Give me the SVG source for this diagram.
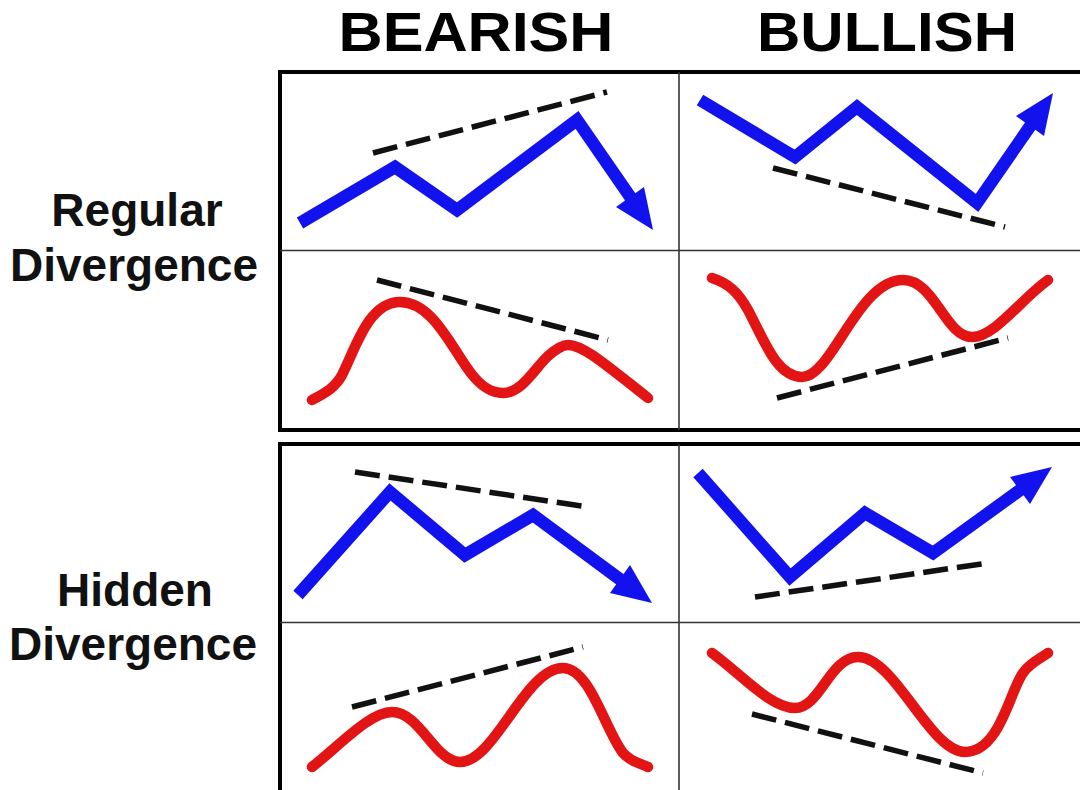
<svg xmlns="http://www.w3.org/2000/svg" width="1080" height="790" viewBox="0 0 1080 790">
<style>
.hdr{font-family:"Liberation Sans",Arial,Helvetica,sans-serif;font-weight:bold;font-size:55px;fill:#000;text-anchor:middle}
.lbl{font-family:"Liberation Sans",Arial,Helvetica,sans-serif;font-weight:bold;font-size:46px;fill:#111;text-anchor:middle}
.frame{fill:none;stroke:#000;stroke-width:4}
.div{fill:none;stroke:#333;stroke-width:1.6}
.blue{fill:none;stroke:#1212ee;stroke-width:12.5;stroke-linejoin:miter;stroke-miterlimit:10;stroke-linecap:butt}
.head{fill:#1212ee}
.red{fill:none;stroke:#e21414;stroke-width:10.5;stroke-linecap:round;stroke-linejoin:round}
.dash{fill:none;stroke:#111;stroke-width:5.5;stroke-dasharray:25 9}
</style>
<rect width="1080" height="790" fill="#fff"/>
<g id="headers">
<text class="hdr" x="476" y="51" textLength="275" lengthAdjust="spacingAndGlyphs">BEARISH</text>
<text class="hdr" x="887" y="51" textLength="260" lengthAdjust="spacingAndGlyphs">BULLISH</text>
</g>
<g id="row-labels">
<text class="lbl" x="137" y="226">Regular</text>
<text class="lbl" x="134" y="281">Divergence</text>
<text class="lbl" x="135" y="606">Hidden</text>
<text class="lbl" x="133" y="660">Divergence</text>
</g>
<g id="grid">
<rect class="frame" x="280" y="72" width="820" height="358"/>
<rect class="frame" x="280" y="444" width="820" height="370"/>
<line class="div" x1="679" y1="72" x2="679" y2="430"/>
<line class="div" x1="679" y1="444" x2="679" y2="790"/>
<line class="div" x1="280" y1="250.5" x2="1080" y2="250.5"/>
<line class="div" x1="280" y1="622.5" x2="1080" y2="622.5"/>
</g>
<g id="regular-bearish-price">
<line class="dash" x1="373" y1="153" x2="607" y2="92"/>
<polyline class="blue" points="300,223 395,167 457,210 577,120 632.6,200.4"/>
<polygon class="head" points="653,230 616,207 644,187"/>
</g>
<g id="regular-bullish-price">
<line class="dash" x1="773" y1="168" x2="1005" y2="227"/>
<polyline class="blue" points="700,100 795,157 857,107 977,203 1032.6,122.6"/>
<polygon class="head" points="1053,93 1044,136 1016,116"/>
</g>
<g id="regular-bearish-osc">
<line class="dash" x1="377" y1="280" x2="608" y2="340"/>
<path class="red" d="M312,400 C325,393 335,388 342,375 C355,350 368,302 400,302 C432,302 450,345 470,372 C482,388 492,393 503,393 C522,393 535,368 548,356 C556,349 562,345 568,345 C582,345 600,360 648,398"/>
</g>
<g id="regular-bullish-osc">
<line class="dash" x1="777" y1="398" x2="1008" y2="338"/>
<path class="red" d="M712,278 C728,283 738,292 748,310 C765,342 777,377 802,377 C832,377 858,280 903,280 C935,280 945,337 972,337 C995,337 1020,300 1048,280"/>
</g>
<g id="hidden-bearish-price">
<line class="dash" x1="355" y1="472" x2="588" y2="507"/>
<polyline class="blue" points="298,595 390,492 465,555 533,515 623.1,581.6"/>
<polygon class="head" points="652,603 610,593 630,565"/>
</g>
<g id="hidden-bullish-price">
<line class="dash" x1="755" y1="597" x2="988" y2="563"/>
<polyline class="blue" points="698,473 790,577 865,513 933,553 1022.8,488.1"/>
<polygon class="head" points="1052,467 1030,504 1010,477"/>
</g>
<g id="hidden-bearish-osc">
<line class="dash" x1="352" y1="707" x2="583" y2="647"/>
<path class="red" d="M312,767 C340,745 370,712 392,712 C420,712 435,762 460,762 C495,762 525,668 563,668 C590,668 605,730 623,753 C632,763 640,763 648,767"/>
</g>
<g id="hidden-bullish-osc">
<line class="dash" x1="752" y1="714" x2="983" y2="773"/>
<path class="red" d="M712,653 C740,673 770,708 795,708 C820,708 830,657 858,657 C895,657 930,752 965,752 C1000,752 1010,690 1023,673 C1030,663 1038,660 1048,653"/>
</g>
</svg>
